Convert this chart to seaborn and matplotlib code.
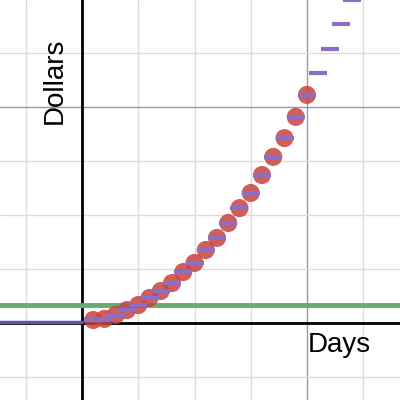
import matplotlib
matplotlib.use("Agg")
import matplotlib.pyplot as plt
import seaborn as sns
import pandas as pd

days = list(range(1, 21))
dollars = [14, 19, 37, 60, 83, 116, 148, 185, 236, 278, 338, 394, 463, 532, 602, 685, 769, 856, 954, 1056]
ext_days = list(range(1, 25))
ext_dollars = dollars + [1157, 1269, 1384, 1495]
left_x = [-10, 0]
left_y = [5, 5]
green_level = 83

sns.set_style("white")
plt.rcParams['font.family'] = ['Liberation Sans', 'DejaVu Sans']
fig = plt.figure(figsize=(4, 4), dpi=100)
ax = fig.add_axes([0, 0, 1, 1])
xmin, xmax = -82/11.25, 318/11.25
ymin, ymax = -77/0.216, 323/0.216
ax.set_xlim(xmin, xmax); ax.set_ylim(ymin, ymax)
for x in range(-5, 30, 5):
    ax.axvline(x, color="#999999" if x % 20 == 0 else "#dddddd", lw=1, zorder=0)
for y in range(-250, 1500, 250):
    ax.axhline(y, color="#999999" if y % 1000 == 0 else "#dddddd", lw=1, zorder=0)
ax.axvline(0, color="black", lw=2, zorder=1)
ax.axhline(0, color="black", lw=2, zorder=1)
ax.axhline(green_level, color="#6aaa72", lw=3.5, zorder=2)
sns.lineplot(x=left_x, y=left_y, color="#6a4fa3", lw=2.5, ax=ax, zorder=3)
df = pd.DataFrame({"d": days, "v": dollars})
sns.scatterplot(data=df, x="d", y="v", color="#c7433f", s=170, alpha=0.85, edgecolor="none", ax=ax, zorder=4)
ax.plot(ext_days, ext_dollars, ls="none", marker="_", ms=13, mew=3, color="#8b6fc7", zorder=5)
ax.set_xticks([]); ax.set_yticks([])
ax.set_xlabel(""); ax.set_ylabel("")
for s in ax.spines.values():
    s.set_visible(False)
ax.text(-2.4, 1120, "Dollars", rotation=90, fontsize=20, ha="center", va="center", color="black")
ax.text(22.9, -100, "Days", fontsize=20, ha="center", va="center", color="black")
fig.savefig("out.png", dpi=100)
